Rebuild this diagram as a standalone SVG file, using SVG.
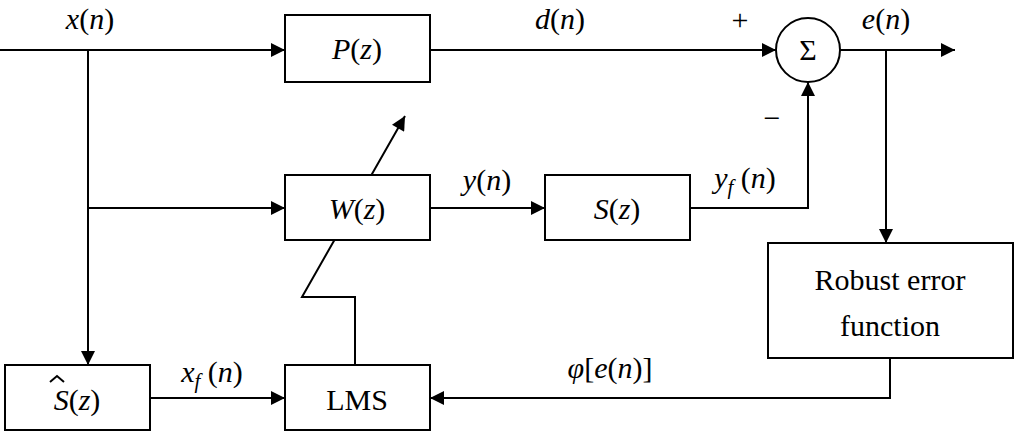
<svg xmlns="http://www.w3.org/2000/svg" width="1016" height="438" viewBox="0 0 1016 438">
<defs>
<marker id="a" viewBox="0 0 10 10" refX="10" refY="5" markerWidth="16" markerHeight="14" markerUnits="userSpaceOnUse" orient="auto"><path d="M0,0L10,5L0,10z" fill="#000"/></marker>
<style>
.l{stroke:#000;stroke-width:2;fill:none}
.b{stroke:#000;stroke-width:2;fill:#fff}
text{font-family:"Liberation Serif","Times New Roman","DejaVu Serif",serif;font-size:30px;fill:#000}
.i{font-style:italic}
</style>
</defs>
<g id="connectors">
<path class="l" d="M0,50H285" marker-end="url(#a)"/>
<path class="l" d="M88,50V365" marker-end="url(#a)"/>
<path class="l" d="M88,208H285" marker-end="url(#a)"/>
<path class="l" d="M430,50H776" marker-end="url(#a)"/>
<path class="l" d="M840,50H955" marker-end="url(#a)"/>
<path class="l" d="M886,50V243" marker-end="url(#a)"/>
<path class="l" d="M430,208H545" marker-end="url(#a)"/>
<path class="l" d="M690,208H808V82" marker-end="url(#a)"/>
<path class="l" d="M890,358V398H430" marker-end="url(#a)"/>
<path class="l" d="M150,398H285" marker-end="url(#a)"/>
<path class="l" d="M355,365V297H302L405,116" marker-end="url(#a)"/>
</g>
<g id="P"><rect class="b" x="285" y="15" width="145" height="67"/><text x="357" y="59" text-anchor="middle"><tspan class="i">P</tspan>(<tspan class="i">z</tspan>)</text></g>
<g id="sum"><circle class="b" cx="808" cy="50" r="32"/><text x="808" y="60" text-anchor="middle">Σ</text></g>
<g id="W"><rect class="b" x="285" y="175" width="145" height="65"/><text x="357" y="219" text-anchor="middle"><tspan class="i">W</tspan>(<tspan class="i">z</tspan>)</text></g>
<g id="S"><rect class="b" x="545" y="175" width="145" height="65"/><text x="617" y="219" text-anchor="middle"><tspan class="i">S</tspan>(<tspan class="i">z</tspan>)</text></g>
<g id="robust"><rect class="b" x="768" y="243" width="245" height="115"/><text x="890" y="290" text-anchor="middle">Robust error</text><text x="890" y="336" text-anchor="middle">function</text></g>
<g id="Shat"><rect class="b" x="5" y="365" width="145" height="65"/><text x="77" y="410" text-anchor="middle"><tspan class="i">S</tspan>(<tspan class="i">z</tspan>)</text><path d="M50,382L57,376L64,382" class="l" stroke-width="1.5"/></g>
<g id="LMS"><rect class="b" x="285" y="365" width="145" height="65"/><text x="357" y="410" text-anchor="middle">LMS</text></g>
<g id="labels">
<text x="90" y="29" text-anchor="middle"><tspan class="i">x</tspan>(<tspan class="i">n</tspan>)</text>
<text x="560" y="29" text-anchor="middle"><tspan class="i">d</tspan>(<tspan class="i">n</tspan>)</text>
<text x="740" y="30" text-anchor="middle">+</text>
<text x="886" y="29" text-anchor="middle"><tspan class="i">e</tspan>(<tspan class="i">n</tspan>)</text>
<text x="772" y="128" text-anchor="middle">−</text>
<text x="487" y="190" text-anchor="middle"><tspan class="i">y</tspan>(<tspan class="i">n</tspan>)</text>
<text x="745" y="188" text-anchor="middle"><tspan class="i">y</tspan><tspan class="i" dy="6" style="font-size:21px">f</tspan><tspan dy="-6"> (</tspan><tspan class="i">n</tspan>)</text>
<text x="212" y="382" text-anchor="middle"><tspan class="i">x</tspan><tspan class="i" dy="6" style="font-size:21px">f</tspan><tspan dy="-6"> (</tspan><tspan class="i">n</tspan>)</text>
<text x="610" y="378" text-anchor="middle"><tspan class="i">φ</tspan>[<tspan class="i">e</tspan>(<tspan class="i">n</tspan>)]</text>
</g>
</svg>
